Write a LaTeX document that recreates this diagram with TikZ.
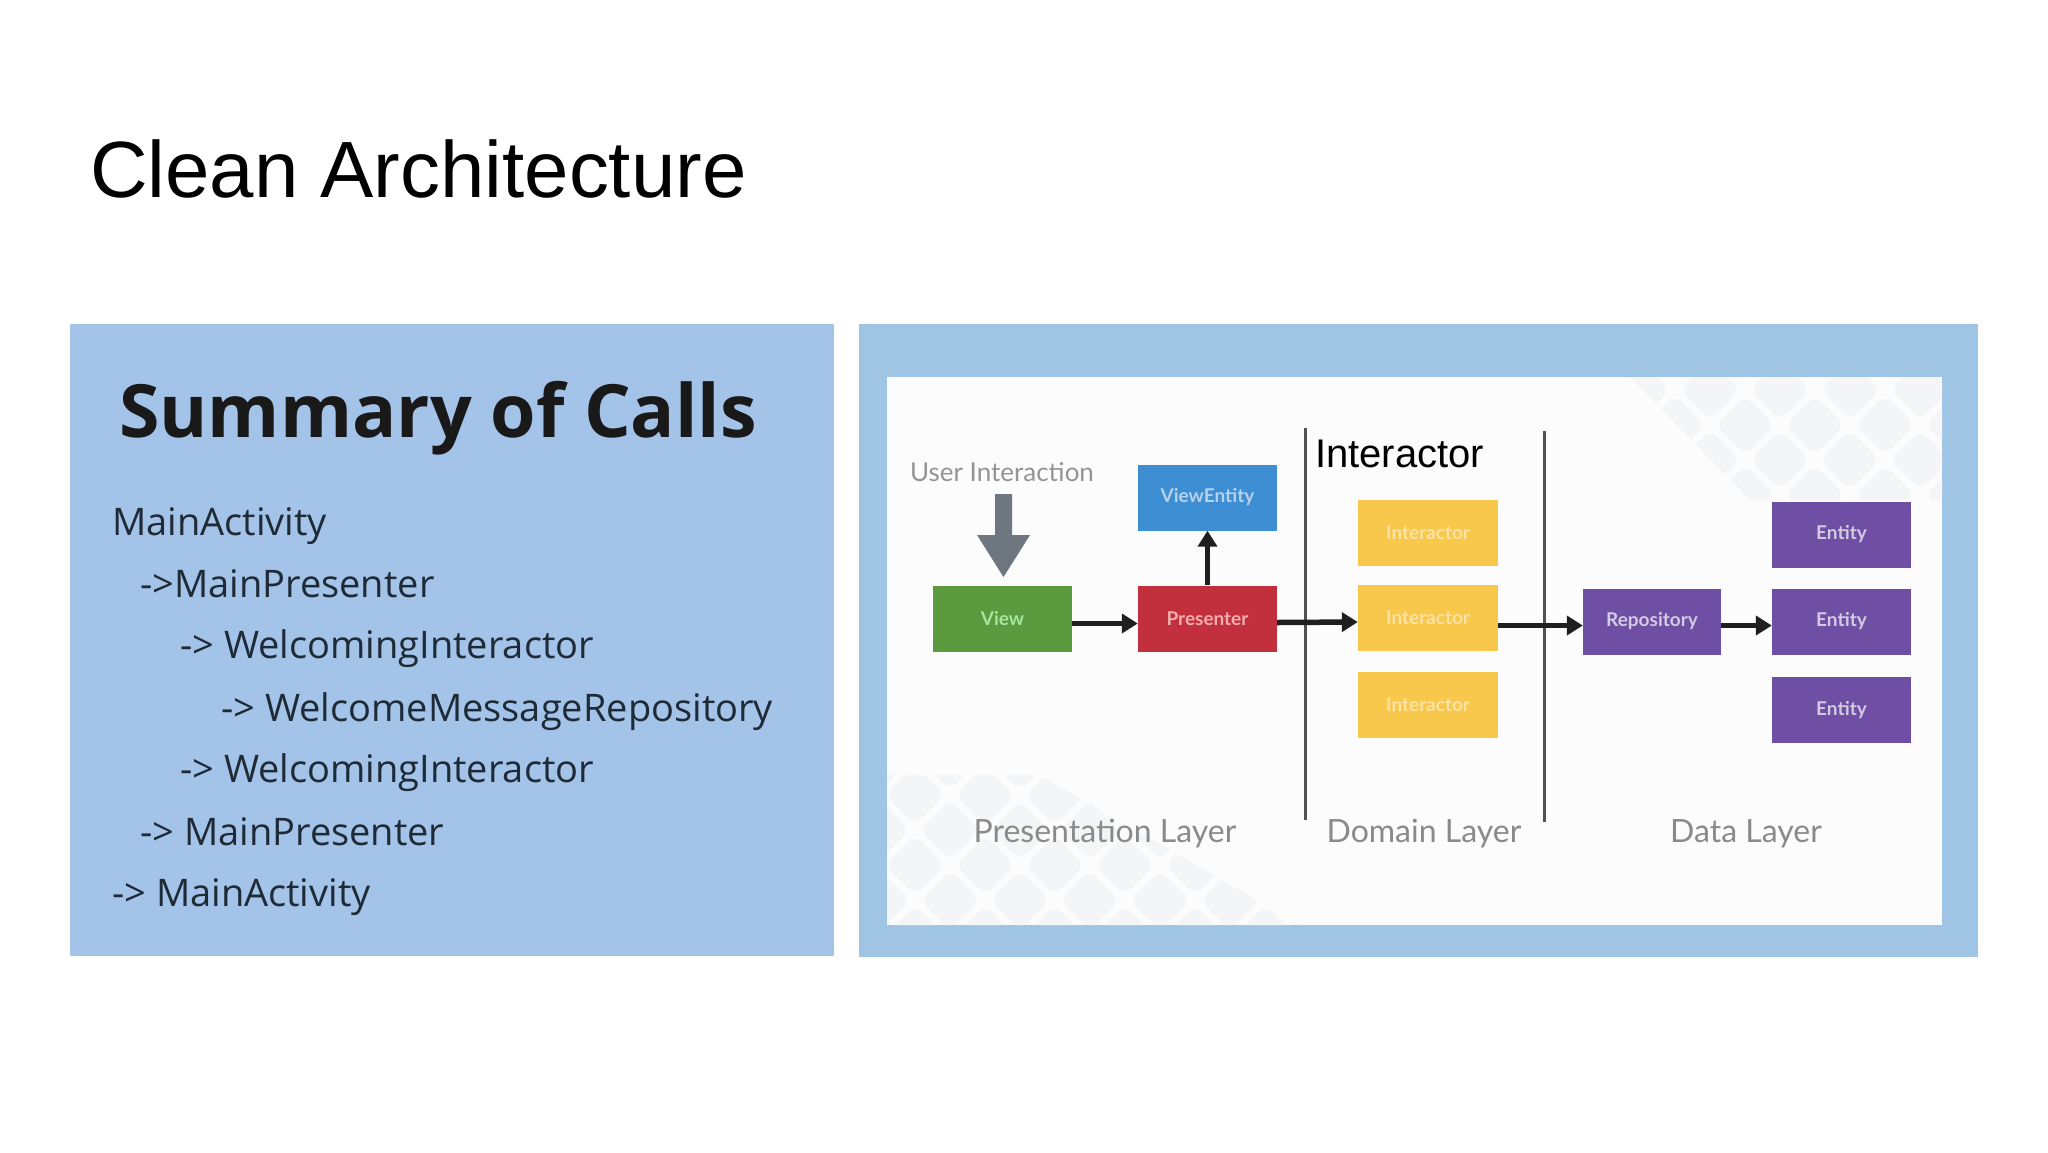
\documentclass[tikz,border=0pt]{standalone}
\usepackage{fontspec}
\setmainfont{Liberation Sans}
\newfontfamily\osans{Open Sans}
\newfontfamily\latof{Lato}
\usetikzlibrary{arrows.meta,calc}
\definecolor{leftblue}{HTML}{A4C3E9}
\definecolor{rightblue}{HTML}{A0C5E4}
\definecolor{listtext}{HTML}{1E2A36}
\definecolor{vgreen}{HTML}{5B9A3F}
\definecolor{pred}{HTML}{C3303D}
\definecolor{veblue}{HTML}{3D8ED3}
\definecolor{iyellow}{HTML}{F8C84C}
\definecolor{dpurple}{HTML}{6E4FA3}
\definecolor{layergray}{HTML}{8A8A8A}
\definecolor{bigarrow}{HTML}{6E7780}
\definecolor{panelwhite}{HTML}{FCFCFD}
\definecolor{diamondfill}{HTML}{F3F5F6}
\tikzset{
  listline/.style={anchor=base west, inner sep=0pt, text=listtext, font=\osans\fontsize{38}{44}\selectfont},
  archbox/.style={minimum width=139pt, minimum height=66pt, inner sep=0pt, font=\latof\bfseries\fontsize{19}{22}\selectfont},
  flow/.style={draw=black!88, line width=5.5pt, -{Triangle[length=16pt,width=19pt]}},
  divider/.style={draw=black!68, line width=3pt},
  layerlabel/.style={anchor=base, inner sep=0pt, text=layergray, font=\latof\fontsize{32}{38}\selectfont},
  bgdiamond/.style={fill=diamondfill, rounded corners=10pt}
}
\begin{document}
\begin{tikzpicture}[x=1pt,y=-1pt]
\fill[white] (0,0) rectangle (2048,1152);
\useasboundingbox (0,0) rectangle (2048,1152);

% title
\node[anchor=base west, inner sep=0pt, font=\fontsize{79.8}{92}\selectfont] (title) at (90,197) {Clean Architecture};

% left panel
\fill[leftblue] (70,324) rectangle (834,956);
\node[anchor=base west, inner sep=0pt, text=black!90, font=\osans\bfseries\fontsize{73.5}{82}\selectfont] (sumtitle) at (119,437) {Summary of Calls};
\node[listline] (l1) at (112,535) {MainActivity};
\node[listline] (l2) at (140,597) {->MainPresenter};
\node[listline] (l3) at (180,658) {-> WelcomingInteractor};
\node[listline] (l4) at (221,721) {-> WelcomeMessageRepository};
\node[listline] (l5) at (180,782) {-> WelcomingInteractor};
\node[listline] (l6) at (140,845) {-> MainPresenter};
\node[listline] (l7) at (112,906) {-> MainActivity};

% right panel
\fill[rightblue] (859,324) rectangle (1978,957);
\fill[panelwhite] (887,377) rectangle (1942,925);

% faint background pattern
\begin{scope}
\clip (887,925) -- (887,775) -- (1040,775) -- (1300,925) -- cycle;
\foreach \i in {0,...,6} {
  \foreach \j in {0,...,3} {
    \fill[bgdiamond] ({880+70*\i},{760+70*\j-30}) -- ({880+70*\i+30},{760+70*\j}) -- ({880+70*\i},{760+70*\j+30}) -- ({880+70*\i-30},{760+70*\j}) -- cycle;
    \fill[bgdiamond] ({915+70*\i},{795+70*\j-30}) -- ({915+70*\i+30},{795+70*\j}) -- ({915+70*\i},{795+70*\j+30}) -- ({915+70*\i-30},{795+70*\j}) -- cycle;
  }
}
\end{scope}
\begin{scope}
\clip (1630,377) -- (1942,377) -- (1942,500) -- (1750,500) -- cycle;
\foreach \i in {0,...,5} {
  \foreach \j in {0,...,2} {
    \fill[bgdiamond] ({1640+70*\i},{390+70*\j-30}) -- ({1640+70*\i+30},{390+70*\j}) -- ({1640+70*\i},{390+70*\j+30}) -- ({1640+70*\i-30},{390+70*\j}) -- cycle;
    \fill[bgdiamond] ({1675+70*\i},{425+70*\j-30}) -- ({1675+70*\i+30},{425+70*\j}) -- ({1675+70*\i},{425+70*\j+30}) -- ({1675+70*\i-30},{425+70*\j}) -- cycle;
  }
}
\end{scope}

% dividers
\coordinate (d1t) at (1305,428);
\coordinate (d1b) at (1305,820);
\coordinate (d2t) at (1544,431);
\coordinate (d2b) at (1544,822);
\draw[divider] (d1t) -- (d1b);
\draw[divider] (d2t) -- (d2b);

\node[anchor=base west, inner sep=0pt, font=\fontsize{40}{46}\selectfont] (intlabel) at (1315,467) {Interactor};

% user interaction
\node[inner sep=0pt, text=black!42, font=\latof\fontsize{26}{30}\selectfont] (user) at (1002,472) {User Interaction};
\fill[bigarrow] (995,494) -- (1012,494) -- (1012,535) -- (1030,535) -- (1003.5,577) -- (977,535) -- (995,535) -- cycle;

% boxes
\node[archbox, fill=vgreen, text=green!25!white!75!vgreen] (view) at (1002.5,618.5) {View};
\node[archbox, fill=pred, text=red!20!white!80!pred] (presenter) at (1207.5,618.5) {Presenter};
\node[archbox, fill=veblue, text=cyan!15!white!75!veblue] (viewentity) at (1207.5,497.5) {ViewEntity};
\node[archbox, minimum width=140pt, fill=iyellow, text=iyellow!50!white] (int1) at (1428,533) {Interactor};
\node[archbox, minimum width=140pt, fill=iyellow, text=iyellow!50!white] (int2) at (1428,618) {Interactor};
\node[archbox, minimum width=140pt, fill=iyellow, text=iyellow!50!white] (int3) at (1428,704.5) {Interactor};
\node[archbox, minimum width=138pt, fill=dpurple, text=dpurple!30!white] (repo) at (1652,621.5) {Repository};
\node[archbox, fill=dpurple, text=dpurple!30!white] (ent1) at (1841.5,534.5) {Entity};
\node[archbox, fill=dpurple, text=dpurple!30!white] (ent2) at (1841.5,621.5) {Entity};
\node[archbox, fill=dpurple, text=dpurple!30!white] (ent3) at (1841.5,710) {Entity};

% connectors
\draw[flow] ([yshift=-5pt]view.east) -- ([yshift=-5pt]presenter.west);
\draw[flow] (presenter.north) -- (viewentity.south);
\draw[flow] ([yshift=-4pt]presenter.east) -- ([yshift=-4pt]int2.west);
\draw[flow] ([yshift=-4pt]repo.west -| int2.east) -- ([yshift=-4pt]repo.west);
\draw[flow] ([yshift=-4pt]repo.east) -- ([yshift=-4pt]ent2.west);

% layer labels
\node[layerlabel] (pl) at (1105,842) {Presentation Layer};
\node[layerlabel] (dl) at (1424,842) {Domain Layer};
\node[layerlabel] (dal) at (1746,842) {Data Layer};
\end{tikzpicture}
\end{document}
